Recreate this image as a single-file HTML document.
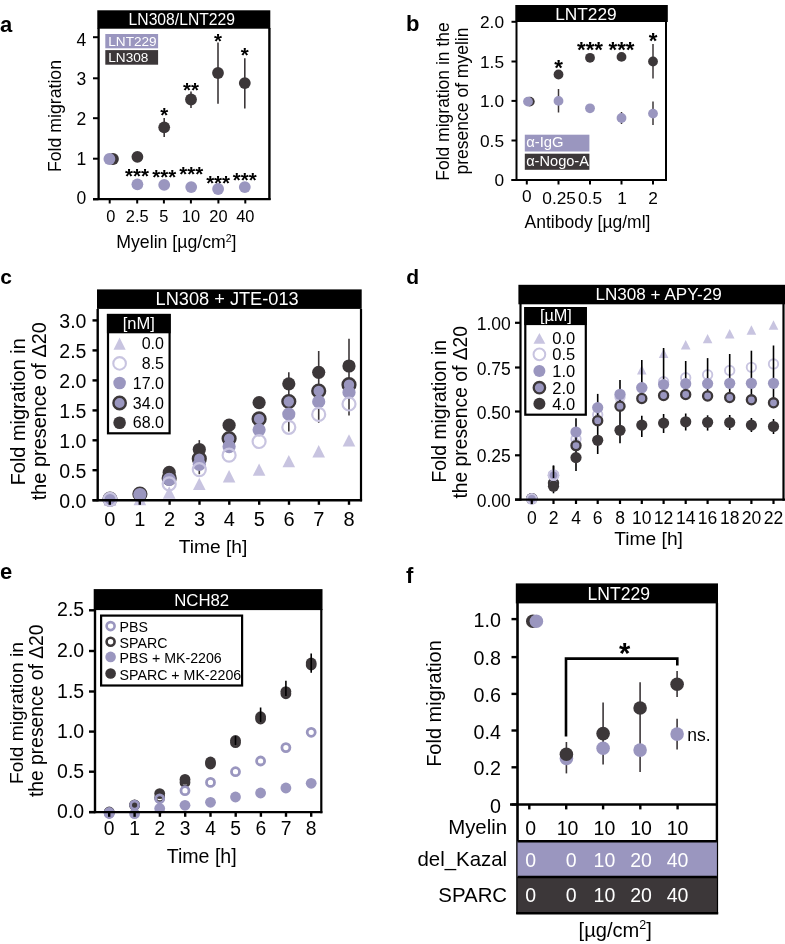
<!DOCTYPE html>
<html><head><meta charset="utf-8"><style>
html,body{margin:0;padding:0;background:#fff;}
svg{will-change:transform;display:block;font-family:"Liberation Sans", sans-serif;}
</style></head><body>
<svg width="785" height="944" viewBox="0 0 785 944">
<text x="0" y="31.5" font-size="22" text-anchor="start" fill="#000" font-weight="bold">a</text>
<rect x="97.3" y="10.3" width="173" height="18.4" fill="#000"/>
<text x="181.8" y="25.2" font-size="15.7" text-anchor="middle" fill="#fff">LN308/LNT229</text>
<line x1="98.6" y1="28" x2="98.6" y2="200" stroke="#000" stroke-width="2.3" stroke-linecap="butt"/>
<line x1="269.4" y1="28" x2="269.4" y2="200" stroke="#000" stroke-width="2.4" stroke-linecap="butt"/>
<line x1="93" y1="199.1" x2="270.6" y2="199.1" stroke="#000" stroke-width="2.3" stroke-linecap="butt"/>
<line x1="93" y1="199.3" x2="98.5" y2="199.3" stroke="#000" stroke-width="2" stroke-linecap="butt"/>
<text x="86.3" y="204.4" font-size="17.5" text-anchor="end" fill="#000">0</text>
<line x1="93" y1="158.7" x2="98.5" y2="158.7" stroke="#000" stroke-width="2" stroke-linecap="butt"/>
<text x="86.3" y="165.0" font-size="17.5" text-anchor="end" fill="#000">1</text>
<line x1="93" y1="118.2" x2="98.5" y2="118.2" stroke="#000" stroke-width="2" stroke-linecap="butt"/>
<text x="86.3" y="125.1" font-size="17.5" text-anchor="end" fill="#000">2</text>
<line x1="93" y1="78.3" x2="98.5" y2="78.3" stroke="#000" stroke-width="2" stroke-linecap="butt"/>
<text x="86.3" y="85.19999999999999" font-size="17.5" text-anchor="end" fill="#000">3</text>
<line x1="93" y1="37.2" x2="98.5" y2="37.2" stroke="#000" stroke-width="2" stroke-linecap="butt"/>
<text x="86.3" y="45.5" font-size="17.5" text-anchor="end" fill="#000">4</text>
<line x1="109.7" y1="199" x2="109.7" y2="203.5" stroke="#000" stroke-width="2" stroke-linecap="butt"/>
<text x="110.7" y="221.7" font-size="16.4" text-anchor="middle" fill="#000">0</text>
<line x1="137.2" y1="199" x2="137.2" y2="203.5" stroke="#000" stroke-width="2" stroke-linecap="butt"/>
<text x="137.2" y="221.7" font-size="16.4" text-anchor="middle" fill="#000">2.5</text>
<line x1="163.9" y1="199" x2="163.9" y2="203.5" stroke="#000" stroke-width="2" stroke-linecap="butt"/>
<text x="163.9" y="221.7" font-size="16.4" text-anchor="middle" fill="#000">5</text>
<line x1="190.9" y1="199" x2="190.9" y2="203.5" stroke="#000" stroke-width="2" stroke-linecap="butt"/>
<text x="190.9" y="221.7" font-size="16.4" text-anchor="middle" fill="#000">10</text>
<line x1="218.4" y1="199" x2="218.4" y2="203.5" stroke="#000" stroke-width="2" stroke-linecap="butt"/>
<text x="218.4" y="221.7" font-size="16.4" text-anchor="middle" fill="#000">20</text>
<line x1="245.3" y1="199" x2="245.3" y2="203.5" stroke="#000" stroke-width="2" stroke-linecap="butt"/>
<text x="245.3" y="221.7" font-size="16.4" text-anchor="middle" fill="#000">40</text>
<text x="176.4" y="248.1" font-size="17.7" text-anchor="middle">Myelin [µg/cm<tspan font-size="10.5" dy="-6">2</tspan><tspan dy="6">]</tspan></text>
<text x="60.5" y="116" font-size="17.7" text-anchor="middle" fill="#000" transform="rotate(-90 60.5 116)">Fold migration</text>
<rect x="105.3" y="34" width="52.8" height="14.3" fill="#9a96bf"/>
<text x="108.3" y="45.7" font-size="13.6" text-anchor="start" fill="#fff">LNT229</text>
<rect x="105.3" y="50.1" width="52.8" height="14.6" fill="#3c3739"/>
<text x="108.3" y="62" font-size="13.6" text-anchor="start" fill="#fff">LN308</text>
<line x1="164.2" y1="118.1" x2="164.2" y2="137" stroke="#3c3739" stroke-width="1.6" stroke-linecap="butt"/>
<line x1="191" y1="91.4" x2="191" y2="107.9" stroke="#3c3739" stroke-width="1.6" stroke-linecap="butt"/>
<line x1="218" y1="42.6" x2="218" y2="103.8" stroke="#3c3739" stroke-width="1.6" stroke-linecap="butt"/>
<line x1="244.8" y1="58.2" x2="244.8" y2="108.4" stroke="#3c3739" stroke-width="1.6" stroke-linecap="butt"/>
<circle cx="113" cy="159" r="5.9" fill="#3c3739"/>
<circle cx="109.4" cy="159" r="5.9" fill="#9a96bf"/>
<circle cx="137.4" cy="156.8" r="5.9" fill="#3c3739"/>
<circle cx="164.2" cy="127.3" r="5.9" fill="#3c3739"/>
<circle cx="191" cy="99.5" r="5.9" fill="#3c3739"/>
<circle cx="218" cy="73" r="5.9" fill="#3c3739"/>
<circle cx="244.8" cy="83.1" r="5.9" fill="#3c3739"/>
<circle cx="137.4" cy="184.3" r="5.9" fill="#9a96bf"/>
<circle cx="164.2" cy="184.8" r="5.9" fill="#9a96bf"/>
<circle cx="191.2" cy="187.1" r="5.9" fill="#9a96bf"/>
<circle cx="218.1" cy="189" r="5.9" fill="#9a96bf"/>
<circle cx="244.8" cy="187.1" r="5.9" fill="#9a96bf"/>
<text x="164.2" y="121.65" font-size="20.5" text-anchor="middle" fill="#000" font-weight="bold">*</text>
<text x="191" y="96.75" font-size="20.5" text-anchor="middle" fill="#000" font-weight="bold">**</text>
<text x="218" y="47.85" font-size="20.5" text-anchor="middle" fill="#000" font-weight="bold">*</text>
<text x="244.8" y="61.55" font-size="20.5" text-anchor="middle" fill="#000" font-weight="bold">*</text>
<text x="137" y="183.35" font-size="20.5" text-anchor="middle" fill="#000" font-weight="bold">***</text>
<text x="164.2" y="183.75" font-size="20.5" text-anchor="middle" fill="#000" font-weight="bold">***</text>
<text x="191.2" y="180.85" font-size="20.5" text-anchor="middle" fill="#000" font-weight="bold">***</text>
<text x="218.1" y="189.75" font-size="20.5" text-anchor="middle" fill="#000" font-weight="bold">***</text>
<text x="244.8" y="186.55" font-size="20.5" text-anchor="middle" fill="#000" font-weight="bold">***</text>
<text x="406" y="30.5" font-size="22" text-anchor="start" fill="#000" font-weight="bold">b</text>
<rect x="515.3" y="5" width="152.5" height="17" fill="#000"/>
<text x="585.9" y="20" font-size="17.3" text-anchor="middle" fill="#fff">LNT229</text>
<line x1="516.5" y1="21.5" x2="516.5" y2="181" stroke="#000" stroke-width="2" stroke-linecap="butt"/>
<line x1="666" y1="21.5" x2="666" y2="181" stroke="#000" stroke-width="2" stroke-linecap="butt"/>
<line x1="511.5" y1="180" x2="667" y2="180" stroke="#000" stroke-width="2" stroke-linecap="butt"/>
<line x1="511.5" y1="180" x2="516.5" y2="180" stroke="#000" stroke-width="2" stroke-linecap="butt"/>
<text x="504" y="186.2" font-size="17.3" text-anchor="end" fill="#000">0</text>
<line x1="511.5" y1="140.5" x2="516.5" y2="140.5" stroke="#000" stroke-width="2" stroke-linecap="butt"/>
<text x="504" y="146.7" font-size="17.3" text-anchor="end" fill="#000">0.5</text>
<line x1="511.5" y1="100.9" x2="516.5" y2="100.9" stroke="#000" stroke-width="2" stroke-linecap="butt"/>
<text x="504" y="107.10000000000001" font-size="17.3" text-anchor="end" fill="#000">1.0</text>
<line x1="511.5" y1="61.5" x2="516.5" y2="61.5" stroke="#000" stroke-width="2" stroke-linecap="butt"/>
<text x="504" y="67.7" font-size="17.3" text-anchor="end" fill="#000">1.5</text>
<line x1="511.5" y1="21.8" x2="516.5" y2="21.8" stroke="#000" stroke-width="2" stroke-linecap="butt"/>
<text x="504" y="28.0" font-size="17.3" text-anchor="end" fill="#000">2.0</text>
<line x1="526.8" y1="180" x2="526.8" y2="184.5" stroke="#000" stroke-width="2" stroke-linecap="butt"/>
<text x="526.8" y="202.3" font-size="17.3" text-anchor="middle" fill="#000">0</text>
<line x1="558.5" y1="180" x2="558.5" y2="184.5" stroke="#000" stroke-width="2" stroke-linecap="butt"/>
<text x="559.1" y="204" font-size="17.3" text-anchor="middle" fill="#000">0.25</text>
<line x1="590" y1="180" x2="590" y2="184.5" stroke="#000" stroke-width="2" stroke-linecap="butt"/>
<text x="590" y="204" font-size="17.3" text-anchor="middle" fill="#000">0.5</text>
<line x1="621.5" y1="180" x2="621.5" y2="184.5" stroke="#000" stroke-width="2" stroke-linecap="butt"/>
<text x="622.1" y="204" font-size="17.3" text-anchor="middle" fill="#000">1</text>
<line x1="653" y1="180" x2="653" y2="184.5" stroke="#000" stroke-width="2" stroke-linecap="butt"/>
<text x="653" y="204" font-size="17.3" text-anchor="middle" fill="#000">2</text>
<text x="587.5" y="228" font-size="17.5" text-anchor="middle" fill="#000">Antibody [µg/ml]</text>
<text x="449.4" y="101.5" font-size="17.5" text-anchor="middle" fill="#000" transform="rotate(-90 449.4 101.5)">Fold migration in the</text>
<text x="468.2" y="101" font-size="17.5" text-anchor="middle" fill="#000" transform="rotate(-90 468.2 101)">presence of myelin</text>
<rect x="524.8" y="134.7" width="64.6" height="16.8" fill="#9a96bf"/>
<text x="526.2" y="147.4" font-size="14.8" text-anchor="start" fill="#fff">α-IgG</text>
<rect x="524.8" y="153.7" width="64.6" height="16.1" fill="#3c3739"/>
<text x="526.2" y="166.3" font-size="14.6" text-anchor="start" fill="#fff">α-Nogo-A</text>
<line x1="653" y1="44" x2="653" y2="78.4" stroke="#3c3739" stroke-width="1.5" stroke-linecap="butt"/>
<line x1="558.5" y1="89" x2="558.5" y2="112.5" stroke="#3c3739" stroke-width="1.5" stroke-linecap="butt"/>
<line x1="621.5" y1="112" x2="621.5" y2="124" stroke="#3c3739" stroke-width="1.5" stroke-linecap="butt"/>
<line x1="653" y1="101.5" x2="653" y2="124.9" stroke="#3c3739" stroke-width="1.5" stroke-linecap="butt"/>
<circle cx="529.8" cy="101.6" r="4.9" fill="#3c3739"/>
<circle cx="558.5" cy="74.5" r="4.9" fill="#3c3739"/>
<circle cx="590" cy="57.8" r="4.9" fill="#3c3739"/>
<circle cx="621.5" cy="56.9" r="4.9" fill="#3c3739"/>
<circle cx="653" cy="61.5" r="4.9" fill="#3c3739"/>
<circle cx="528" cy="101.6" r="4.9" fill="#9a96bf"/>
<circle cx="558.5" cy="100.9" r="4.9" fill="#9a96bf"/>
<circle cx="590" cy="108.3" r="4.9" fill="#9a96bf"/>
<circle cx="621.5" cy="118" r="4.9" fill="#9a96bf"/>
<circle cx="653" cy="113.6" r="4.9" fill="#9a96bf"/>
<text x="558.5" y="75.15" font-size="22.3" text-anchor="middle" fill="#000" font-weight="bold">*</text>
<text x="590" y="56.85" font-size="22.3" text-anchor="middle" fill="#000" font-weight="bold">***</text>
<text x="621.5" y="56.85" font-size="22.3" text-anchor="middle" fill="#000" font-weight="bold">***</text>
<text x="653" y="47.65" font-size="22.3" text-anchor="middle" fill="#000" font-weight="bold">*</text>
<text x="0.3" y="284" font-size="21" text-anchor="start" fill="#000" font-weight="bold">c</text>
<polygon points="103.7,505.7 116.3,505.7 110,493.3" fill="#c8c4e0"/>
<polygon points="133.6,505.2 146.20000000000002,505.2 139.9,492.8" fill="#c8c4e0"/>
<polygon points="162.89999999999998,498.7 175.5,498.7 169.2,486.3" fill="#c8c4e0"/>
<polygon points="193.0,490.09999999999997 205.60000000000002,490.09999999999997 199.3,477.7" fill="#c8c4e0"/>
<polygon points="222.79999999999998,482.4 235.4,482.4 229.1,470.0" fill="#c8c4e0"/>
<polygon points="252.8,475.8 265.40000000000003,475.8 259.1,463.40000000000003" fill="#c8c4e0"/>
<polygon points="282.5,467.3 295.1,467.3 288.8,454.90000000000003" fill="#c8c4e0"/>
<polygon points="312.4,457.4 325.0,457.4 318.7,445.0" fill="#c8c4e0"/>
<polygon points="342.7,446.59999999999997 355.3,446.59999999999997 349,434.2" fill="#c8c4e0"/>
<line x1="199.3" y1="440.1" x2="199.3" y2="474.2" stroke="#3c3739" stroke-width="1.6" stroke-linecap="butt"/>
<line x1="288.8" y1="372.3" x2="288.8" y2="431.5" stroke="#3c3739" stroke-width="1.6" stroke-linecap="butt"/>
<line x1="318.7" y1="351" x2="318.7" y2="422.7" stroke="#3c3739" stroke-width="1.6" stroke-linecap="butt"/>
<line x1="349" y1="338.7" x2="349" y2="415.5" stroke="#3c3739" stroke-width="1.6" stroke-linecap="butt"/>
<circle cx="110" cy="499.1" r="6.6" fill="#3c3739"/>
<circle cx="139.9" cy="494" r="6.6" fill="#3c3739"/>
<circle cx="169.2" cy="472.4" r="6.6" fill="#3c3739"/>
<circle cx="199.3" cy="449.5" r="6.6" fill="#3c3739"/>
<circle cx="229.1" cy="425.2" r="6.6" fill="#3c3739"/>
<circle cx="259.1" cy="402.6" r="6.6" fill="#3c3739"/>
<circle cx="288.8" cy="383.8" r="6.6" fill="#3c3739"/>
<circle cx="318.7" cy="372.3" r="6.6" fill="#3c3739"/>
<circle cx="349" cy="366" r="6.6" fill="#3c3739"/>
<circle cx="110" cy="499.1" r="6.4" fill="#9a96bf" stroke="#3c3739" stroke-width="2.4"/>
<circle cx="139.9" cy="494" r="6.4" fill="#9a96bf" stroke="#3c3739" stroke-width="2.4"/>
<circle cx="169.2" cy="478.2" r="6.4" fill="#9a96bf" stroke="#3c3739" stroke-width="2.4"/>
<circle cx="199.3" cy="458.7" r="6.4" fill="#9a96bf" stroke="#3c3739" stroke-width="2.4"/>
<circle cx="229.1" cy="438.6" r="6.4" fill="#9a96bf" stroke="#3c3739" stroke-width="2.4"/>
<circle cx="259.1" cy="418.9" r="6.4" fill="#9a96bf" stroke="#3c3739" stroke-width="2.4"/>
<circle cx="288.8" cy="401.5" r="6.4" fill="#9a96bf" stroke="#3c3739" stroke-width="2.4"/>
<circle cx="318.7" cy="391" r="6.4" fill="#9a96bf" stroke="#3c3739" stroke-width="2.4"/>
<circle cx="349" cy="384.7" r="6.4" fill="#9a96bf" stroke="#3c3739" stroke-width="2.4"/>
<circle cx="110" cy="499.1" r="6.6" fill="#9a96bf"/>
<circle cx="139.9" cy="494.5" r="6.6" fill="#9a96bf"/>
<circle cx="169.2" cy="479.3" r="6.6" fill="#9a96bf"/>
<circle cx="199.3" cy="464.4" r="6.6" fill="#9a96bf"/>
<circle cx="229.1" cy="446.6" r="6.6" fill="#9a96bf"/>
<circle cx="259.1" cy="429.8" r="6.6" fill="#9a96bf"/>
<circle cx="288.8" cy="414.1" r="6.6" fill="#9a96bf"/>
<circle cx="318.7" cy="401.7" r="6.6" fill="#9a96bf"/>
<circle cx="349" cy="392.4" r="6.6" fill="#9a96bf"/>
<circle cx="110" cy="499.3" r="6.5" fill="none" stroke="#c8c4e0" stroke-width="2.2"/>
<circle cx="169.2" cy="483.9" r="6.5" fill="none" stroke="#c8c4e0" stroke-width="2.2"/>
<circle cx="199.3" cy="469.6" r="6.5" fill="none" stroke="#c8c4e0" stroke-width="2.2"/>
<circle cx="229.1" cy="455.2" r="6.5" fill="none" stroke="#c8c4e0" stroke-width="2.2"/>
<circle cx="259.1" cy="441.5" r="6.5" fill="none" stroke="#c8c4e0" stroke-width="2.2"/>
<circle cx="288.8" cy="427.3" r="6.5" fill="none" stroke="#c8c4e0" stroke-width="2.2"/>
<circle cx="318.7" cy="414.4" r="6.5" fill="none" stroke="#c8c4e0" stroke-width="2.2"/>
<circle cx="349" cy="404" r="6.5" fill="none" stroke="#c8c4e0" stroke-width="2.2"/>
<rect x="97" y="289.4" width="264.7" height="19.5" fill="#000"/>
<text x="227.1" y="305.2" font-size="18.2" text-anchor="middle" fill="#fff">LN308 + JTE-013</text>
<line x1="97.7" y1="309" x2="97.7" y2="501.3" stroke="#000" stroke-width="2.4" stroke-linecap="butt"/>
<line x1="361" y1="309" x2="361" y2="501.3" stroke="#000" stroke-width="2.2" stroke-linecap="butt"/>
<line x1="92.5" y1="500.2" x2="362.1" y2="500.2" stroke="#000" stroke-width="2.4" stroke-linecap="butt"/>
<line x1="92.5" y1="500.2" x2="97.7" y2="500.2" stroke="#000" stroke-width="2.4" stroke-linecap="butt"/>
<text x="86.4" y="507.59999999999997" font-size="19.5" text-anchor="end" fill="#000">0.0</text>
<line x1="92.5" y1="470.2" x2="97.7" y2="470.2" stroke="#000" stroke-width="2.4" stroke-linecap="butt"/>
<text x="86.4" y="477.59999999999997" font-size="19.5" text-anchor="end" fill="#000">0.5</text>
<line x1="92.5" y1="440.3" x2="97.7" y2="440.3" stroke="#000" stroke-width="2.4" stroke-linecap="butt"/>
<text x="86.4" y="447.7" font-size="19.5" text-anchor="end" fill="#000">1.0</text>
<line x1="92.5" y1="410.4" x2="97.7" y2="410.4" stroke="#000" stroke-width="2.4" stroke-linecap="butt"/>
<text x="86.4" y="417.79999999999995" font-size="19.5" text-anchor="end" fill="#000">1.5</text>
<line x1="92.5" y1="380.4" x2="97.7" y2="380.4" stroke="#000" stroke-width="2.4" stroke-linecap="butt"/>
<text x="86.4" y="387.79999999999995" font-size="19.5" text-anchor="end" fill="#000">2.0</text>
<line x1="92.5" y1="350.4" x2="97.7" y2="350.4" stroke="#000" stroke-width="2.4" stroke-linecap="butt"/>
<text x="86.4" y="357.79999999999995" font-size="19.5" text-anchor="end" fill="#000">2.5</text>
<line x1="92.5" y1="320.4" x2="97.7" y2="320.4" stroke="#000" stroke-width="2.4" stroke-linecap="butt"/>
<text x="86.4" y="327.79999999999995" font-size="19.5" text-anchor="end" fill="#000">3.0</text>
<line x1="109.8" y1="500" x2="109.8" y2="504.8" stroke="#000" stroke-width="2.4" stroke-linecap="butt"/>
<text x="109.8" y="526" font-size="20" text-anchor="middle" fill="#000">0</text>
<line x1="139.8" y1="500" x2="139.8" y2="504.8" stroke="#000" stroke-width="2.4" stroke-linecap="butt"/>
<text x="139.8" y="526" font-size="20" text-anchor="middle" fill="#000">1</text>
<line x1="169.6" y1="500" x2="169.6" y2="504.8" stroke="#000" stroke-width="2.4" stroke-linecap="butt"/>
<text x="169.6" y="526" font-size="20" text-anchor="middle" fill="#000">2</text>
<line x1="199.5" y1="500" x2="199.5" y2="504.8" stroke="#000" stroke-width="2.4" stroke-linecap="butt"/>
<text x="199.5" y="526" font-size="20" text-anchor="middle" fill="#000">3</text>
<line x1="229.3" y1="500" x2="229.3" y2="504.8" stroke="#000" stroke-width="2.4" stroke-linecap="butt"/>
<text x="229.3" y="526" font-size="20" text-anchor="middle" fill="#000">4</text>
<line x1="259.2" y1="500" x2="259.2" y2="504.8" stroke="#000" stroke-width="2.4" stroke-linecap="butt"/>
<text x="259.2" y="526" font-size="20" text-anchor="middle" fill="#000">5</text>
<line x1="289" y1="500" x2="289" y2="504.8" stroke="#000" stroke-width="2.4" stroke-linecap="butt"/>
<text x="289" y="526" font-size="20" text-anchor="middle" fill="#000">6</text>
<line x1="318.9" y1="500" x2="318.9" y2="504.8" stroke="#000" stroke-width="2.4" stroke-linecap="butt"/>
<text x="318.9" y="526" font-size="20" text-anchor="middle" fill="#000">7</text>
<line x1="349" y1="500" x2="349" y2="504.8" stroke="#000" stroke-width="2.4" stroke-linecap="butt"/>
<text x="349" y="526" font-size="20" text-anchor="middle" fill="#000">8</text>
<text x="213" y="552.8" font-size="19.2" text-anchor="middle" fill="#000">Time [h]</text>
<text x="24.8" y="411.8" font-size="19.9" text-anchor="middle" fill="#000" transform="rotate(-90 24.8 411.8)">Fold migration in</text>
<text x="45.6" y="411.2" font-size="19.9" text-anchor="middle" fill="#000" transform="rotate(-90 45.6 411.2)">the presence of Δ20</text>
<rect x="108" y="315" width="61.6" height="118.3" fill="#fff" stroke="#000" stroke-width="2.2"/>
<rect x="106.9" y="313.9" width="63.8" height="19.4" fill="#000"/>
<text x="138.7" y="329" font-size="16.5" text-anchor="middle" fill="#fff">[nM]</text>
<polygon points="113.5,349.70000000000005 125.69999999999999,349.70000000000005 119.6,337.5" fill="#c8c4e0"/>
<circle cx="119.6" cy="363.4" r="6.3" fill="none" stroke="#c8c4e0" stroke-width="2.1"/>
<circle cx="119.6" cy="383" r="6.3" fill="#9a96bf"/>
<circle cx="119.6" cy="403" r="6.2" fill="#9a96bf" stroke="#3c3739" stroke-width="2.4"/>
<circle cx="119.6" cy="422.8" r="6.3" fill="#3c3739"/>
<text x="163.9" y="349.20000000000005" font-size="16" text-anchor="end" fill="#000">0.0</text>
<text x="163.9" y="369.0" font-size="16" text-anchor="end" fill="#000">8.5</text>
<text x="163.9" y="388.6" font-size="16" text-anchor="end" fill="#000">17.0</text>
<text x="163.9" y="408.6" font-size="16" text-anchor="end" fill="#000">34.0</text>
<text x="163.9" y="428.40000000000003" font-size="16" text-anchor="end" fill="#000">68.0</text>
<text x="406.3" y="284" font-size="21" text-anchor="start" fill="#000" font-weight="bold">d</text>
<polygon points="527.0,503.3 536.5999999999999,503.3 531.8,493.90000000000003" fill="#c8c4e0"/>
<polygon points="548.7,480.7 558.3,480.7 553.5,471.3" fill="#c8c4e0"/>
<polygon points="571.2,443.59999999999997 580.8,443.59999999999997 576,434.2" fill="#c8c4e0"/>
<polygon points="592.9000000000001,419.5 602.5,419.5 597.7,410.1" fill="#c8c4e0"/>
<polygon points="615.2,401.7 624.8,401.7 620,392.3" fill="#c8c4e0"/>
<polygon points="637.0,374.5 646.5999999999999,374.5 641.8,365.1" fill="#c8c4e0"/>
<polygon points="658.8000000000001,358.09999999999997 668.4,358.09999999999997 663.6,348.7" fill="#c8c4e0"/>
<polygon points="680.9000000000001,349.5 690.5,349.5 685.7,340.1" fill="#c8c4e0"/>
<polygon points="702.8000000000001,343.3 712.4,343.3 707.6,333.90000000000003" fill="#c8c4e0"/>
<polygon points="724.9000000000001,338.4 734.5,338.4 729.7,329.0" fill="#c8c4e0"/>
<polygon points="746.6,334.7 756.1999999999999,334.7 751.4,325.3" fill="#c8c4e0"/>
<polygon points="768.7,329.7 778.3,329.7 773.5,320.3" fill="#c8c4e0"/>
<circle cx="531.8" cy="498.6" r="4.7" fill="none" stroke="#c8c4e0" stroke-width="1.9"/>
<circle cx="553.5" cy="475.2" r="4.7" fill="none" stroke="#c8c4e0" stroke-width="1.9"/>
<circle cx="576" cy="438.9" r="4.7" fill="none" stroke="#c8c4e0" stroke-width="1.9"/>
<circle cx="597.7" cy="414.8" r="4.7" fill="none" stroke="#c8c4e0" stroke-width="1.9"/>
<circle cx="620" cy="397" r="4.7" fill="none" stroke="#c8c4e0" stroke-width="1.9"/>
<circle cx="641.8" cy="388" r="4.7" fill="none" stroke="#c8c4e0" stroke-width="1.9"/>
<circle cx="663.6" cy="381.7" r="4.7" fill="none" stroke="#c8c4e0" stroke-width="1.9"/>
<circle cx="685.7" cy="377.7" r="4.7" fill="none" stroke="#c8c4e0" stroke-width="1.9"/>
<circle cx="707.6" cy="374.7" r="4.7" fill="none" stroke="#c8c4e0" stroke-width="1.9"/>
<circle cx="729.7" cy="370.4" r="4.7" fill="none" stroke="#c8c4e0" stroke-width="1.9"/>
<circle cx="751.4" cy="367.3" r="4.7" fill="none" stroke="#c8c4e0" stroke-width="1.9"/>
<circle cx="773.5" cy="363.9" r="4.7" fill="none" stroke="#c8c4e0" stroke-width="1.9"/>
<line x1="553.5" y1="465.6" x2="553.5" y2="493.3" stroke="#000" stroke-width="1.6" stroke-linecap="butt"/>
<line x1="576" y1="418.3" x2="576" y2="471" stroke="#000" stroke-width="1.6" stroke-linecap="butt"/>
<line x1="597.7" y1="393.9" x2="597.7" y2="454" stroke="#000" stroke-width="1.6" stroke-linecap="butt"/>
<line x1="620" y1="380" x2="620" y2="443.3" stroke="#000" stroke-width="1.6" stroke-linecap="butt"/>
<line x1="641.8" y1="360" x2="641.8" y2="404" stroke="#000" stroke-width="1.6" stroke-linecap="butt"/>
<line x1="663.6" y1="348" x2="663.6" y2="401" stroke="#000" stroke-width="1.6" stroke-linecap="butt"/>
<line x1="685.7" y1="361" x2="685.7" y2="400" stroke="#000" stroke-width="1.6" stroke-linecap="butt"/>
<line x1="707.6" y1="358.1" x2="707.6" y2="401" stroke="#000" stroke-width="1.6" stroke-linecap="butt"/>
<line x1="729.7" y1="354" x2="729.7" y2="403" stroke="#000" stroke-width="1.6" stroke-linecap="butt"/>
<line x1="751.4" y1="350.7" x2="751.4" y2="405" stroke="#000" stroke-width="1.6" stroke-linecap="butt"/>
<line x1="773.5" y1="345.5" x2="773.5" y2="408" stroke="#000" stroke-width="1.6" stroke-linecap="butt"/>
<circle cx="531.8" cy="498.6" r="5.6" fill="#9a96bf"/>
<circle cx="553.5" cy="475.2" r="5.6" fill="#9a96bf"/>
<circle cx="576" cy="432" r="5.6" fill="#9a96bf"/>
<circle cx="597.7" cy="407.6" r="5.6" fill="#9a96bf"/>
<circle cx="620" cy="394.3" r="5.6" fill="#9a96bf"/>
<circle cx="641.8" cy="387.6" r="5.6" fill="#9a96bf"/>
<circle cx="663.6" cy="384.6" r="5.6" fill="#9a96bf"/>
<circle cx="685.7" cy="383.7" r="5.6" fill="#9a96bf"/>
<circle cx="707.6" cy="383.6" r="5.6" fill="#9a96bf"/>
<circle cx="729.7" cy="383.3" r="5.6" fill="#9a96bf"/>
<circle cx="751.4" cy="383.3" r="5.6" fill="#9a96bf"/>
<circle cx="773.5" cy="383.3" r="5.6" fill="#9a96bf"/>
<circle cx="531.8" cy="498.6" r="4.55" fill="#9a96bf" stroke="#3c3739" stroke-width="2.3"/>
<circle cx="553.5" cy="483" r="4.55" fill="#9a96bf" stroke="#3c3739" stroke-width="2.3"/>
<circle cx="576" cy="445.6" r="4.55" fill="#9a96bf" stroke="#3c3739" stroke-width="2.3"/>
<circle cx="597.7" cy="420.7" r="4.55" fill="#9a96bf" stroke="#3c3739" stroke-width="2.3"/>
<circle cx="620" cy="406.2" r="4.55" fill="#9a96bf" stroke="#3c3739" stroke-width="2.3"/>
<circle cx="641.8" cy="398.5" r="4.55" fill="#9a96bf" stroke="#3c3739" stroke-width="2.3"/>
<circle cx="663.6" cy="395.5" r="4.55" fill="#9a96bf" stroke="#3c3739" stroke-width="2.3"/>
<circle cx="685.7" cy="394.5" r="4.55" fill="#9a96bf" stroke="#3c3739" stroke-width="2.3"/>
<circle cx="707.6" cy="396" r="4.55" fill="#9a96bf" stroke="#3c3739" stroke-width="2.3"/>
<circle cx="729.7" cy="397.5" r="4.55" fill="#9a96bf" stroke="#3c3739" stroke-width="2.3"/>
<circle cx="751.4" cy="399.8" r="4.55" fill="#9a96bf" stroke="#3c3739" stroke-width="2.3"/>
<circle cx="773.5" cy="402.8" r="4.55" fill="#9a96bf" stroke="#3c3739" stroke-width="2.3"/>
<line x1="641.8" y1="415.7" x2="641.8" y2="437" stroke="#000" stroke-width="1.6" stroke-linecap="butt"/>
<line x1="663.6" y1="414" x2="663.6" y2="433" stroke="#000" stroke-width="1.6" stroke-linecap="butt"/>
<line x1="685.7" y1="413.5" x2="685.7" y2="430.5" stroke="#000" stroke-width="1.6" stroke-linecap="butt"/>
<line x1="707.6" y1="415.3" x2="707.6" y2="430.6" stroke="#000" stroke-width="1.6" stroke-linecap="butt"/>
<line x1="729.7" y1="415" x2="729.7" y2="430" stroke="#000" stroke-width="1.6" stroke-linecap="butt"/>
<line x1="751.4" y1="418" x2="751.4" y2="432" stroke="#000" stroke-width="1.6" stroke-linecap="butt"/>
<line x1="773.5" y1="419" x2="773.5" y2="434" stroke="#000" stroke-width="1.6" stroke-linecap="butt"/>
<circle cx="531.8" cy="498.6" r="5.6" fill="#3c3739"/>
<circle cx="553.5" cy="486.2" r="5.6" fill="#3c3739"/>
<circle cx="576" cy="457.6" r="5.6" fill="#3c3739"/>
<circle cx="597.7" cy="440.3" r="5.6" fill="#3c3739"/>
<circle cx="620" cy="430.3" r="5.6" fill="#3c3739"/>
<circle cx="641.8" cy="425.1" r="5.6" fill="#3c3739"/>
<circle cx="663.6" cy="423.1" r="5.6" fill="#3c3739"/>
<circle cx="685.7" cy="421.8" r="5.6" fill="#3c3739"/>
<circle cx="707.6" cy="422.3" r="5.6" fill="#3c3739"/>
<circle cx="729.7" cy="422.5" r="5.6" fill="#3c3739"/>
<circle cx="751.4" cy="425.1" r="5.6" fill="#3c3739"/>
<circle cx="773.5" cy="426.5" r="5.6" fill="#3c3739"/>
<circle cx="531.8" cy="498.8" r="5.9" fill="#c8c4e0"/>
<circle cx="531.8" cy="498.8" r="3.8" fill="#9a96bf"/>
<circle cx="553.5" cy="475.2" r="5.9" fill="#c8c4e0"/>
<circle cx="553.5" cy="475.2" r="3.8" fill="#9a96bf"/>
<line x1="553.5" y1="465.6" x2="553.5" y2="478" stroke="#000" stroke-width="1.6" stroke-linecap="butt"/>
<rect x="518.4" y="284.8" width="266.6" height="19.5" fill="#000"/>
<text x="658.6" y="300.2" font-size="17.1" text-anchor="middle" fill="#fff">LN308 + APY-29</text>
<line x1="520.5" y1="304" x2="520.5" y2="500.7" stroke="#000" stroke-width="2.2" stroke-linecap="butt"/>
<line x1="783.5" y1="304" x2="783.5" y2="500.7" stroke="#000" stroke-width="2.2" stroke-linecap="butt"/>
<line x1="515" y1="499.6" x2="785" y2="499.6" stroke="#000" stroke-width="2.2" stroke-linecap="butt"/>
<line x1="515" y1="499.6" x2="520.5" y2="499.6" stroke="#000" stroke-width="2.2" stroke-linecap="butt"/>
<text x="510.8" y="506.6" font-size="17.5" text-anchor="end" fill="#000">0.00</text>
<line x1="515" y1="455.3" x2="520.5" y2="455.3" stroke="#000" stroke-width="2.2" stroke-linecap="butt"/>
<text x="510.8" y="462.3" font-size="17.5" text-anchor="end" fill="#000">0.25</text>
<line x1="515" y1="411.5" x2="520.5" y2="411.5" stroke="#000" stroke-width="2.2" stroke-linecap="butt"/>
<text x="510.8" y="418.5" font-size="17.5" text-anchor="end" fill="#000">0.50</text>
<line x1="515" y1="367.5" x2="520.5" y2="367.5" stroke="#000" stroke-width="2.2" stroke-linecap="butt"/>
<text x="510.8" y="374.5" font-size="17.5" text-anchor="end" fill="#000">0.75</text>
<line x1="515" y1="322.8" x2="520.5" y2="322.8" stroke="#000" stroke-width="2.2" stroke-linecap="butt"/>
<text x="510.8" y="329.8" font-size="17.5" text-anchor="end" fill="#000">1.00</text>
<line x1="531.8" y1="499.6" x2="531.8" y2="504" stroke="#000" stroke-width="2.2" stroke-linecap="butt"/>
<text x="531.8" y="524" font-size="17.5" text-anchor="middle" fill="#000">0</text>
<line x1="553.5" y1="499.6" x2="553.5" y2="504" stroke="#000" stroke-width="2.2" stroke-linecap="butt"/>
<text x="553.5" y="524" font-size="17.5" text-anchor="middle" fill="#000">2</text>
<line x1="576" y1="499.6" x2="576" y2="504" stroke="#000" stroke-width="2.2" stroke-linecap="butt"/>
<text x="576" y="524" font-size="17.5" text-anchor="middle" fill="#000">4</text>
<line x1="597.7" y1="499.6" x2="597.7" y2="504" stroke="#000" stroke-width="2.2" stroke-linecap="butt"/>
<text x="597.7" y="524" font-size="17.5" text-anchor="middle" fill="#000">6</text>
<line x1="620" y1="499.6" x2="620" y2="504" stroke="#000" stroke-width="2.2" stroke-linecap="butt"/>
<text x="620" y="524" font-size="17.5" text-anchor="middle" fill="#000">8</text>
<line x1="641.8" y1="499.6" x2="641.8" y2="504" stroke="#000" stroke-width="2.2" stroke-linecap="butt"/>
<text x="641.8" y="524" font-size="17.5" text-anchor="middle" fill="#000">10</text>
<line x1="663.6" y1="499.6" x2="663.6" y2="504" stroke="#000" stroke-width="2.2" stroke-linecap="butt"/>
<text x="663.6" y="524" font-size="17.5" text-anchor="middle" fill="#000">12</text>
<line x1="685.7" y1="499.6" x2="685.7" y2="504" stroke="#000" stroke-width="2.2" stroke-linecap="butt"/>
<text x="685.7" y="524" font-size="17.5" text-anchor="middle" fill="#000">14</text>
<line x1="707.6" y1="499.6" x2="707.6" y2="504" stroke="#000" stroke-width="2.2" stroke-linecap="butt"/>
<text x="707.6" y="524" font-size="17.5" text-anchor="middle" fill="#000">16</text>
<line x1="729.7" y1="499.6" x2="729.7" y2="504" stroke="#000" stroke-width="2.2" stroke-linecap="butt"/>
<text x="729.7" y="524" font-size="17.5" text-anchor="middle" fill="#000">18</text>
<line x1="751.4" y1="499.6" x2="751.4" y2="504" stroke="#000" stroke-width="2.2" stroke-linecap="butt"/>
<text x="751.4" y="524" font-size="17.5" text-anchor="middle" fill="#000">20</text>
<line x1="773.5" y1="499.6" x2="773.5" y2="504" stroke="#000" stroke-width="2.2" stroke-linecap="butt"/>
<text x="773.5" y="524" font-size="17.5" text-anchor="middle" fill="#000">22</text>
<text x="648.6" y="545" font-size="19.2" text-anchor="middle" fill="#000">Time [h]</text>
<text x="446.1" y="411.2" font-size="19.3" text-anchor="middle" fill="#000" transform="rotate(-90 446.1 411.2)">Fold migration in</text>
<text x="466.7" y="412.25" font-size="19.3" text-anchor="middle" fill="#000" transform="rotate(-90 466.7 412.25)">the presence of Δ20</text>
<rect x="525.3" y="308.1" width="60.5" height="106.6" fill="#fff" stroke="#000" stroke-width="2.2"/>
<rect x="524.3" y="307.1" width="62.5" height="18" fill="#000"/>
<text x="555.9" y="320.6" font-size="16.3" text-anchor="middle" fill="#fff">[µM]</text>
<polygon points="533.5,343.65000000000003 545.3,343.65000000000003 539.4,332.95" fill="#c8c4e0"/>
<circle cx="539.4" cy="354.4" r="5.85" fill="none" stroke="#c8c4e0" stroke-width="2"/>
<circle cx="539.4" cy="371" r="6" fill="#9a96bf"/>
<circle cx="539.4" cy="387.7" r="5.7" fill="#9a96bf" stroke="#3c3739" stroke-width="2.3"/>
<circle cx="539.4" cy="403.8" r="6" fill="#3c3739"/>
<text x="552.3" y="344.3" font-size="16.5" text-anchor="start" fill="#000">0.0</text>
<text x="552.3" y="360.4" font-size="16.5" text-anchor="start" fill="#000">0.5</text>
<text x="552.3" y="377" font-size="16.5" text-anchor="start" fill="#000">1.0</text>
<text x="552.3" y="393.7" font-size="16.5" text-anchor="start" fill="#000">2.0</text>
<text x="552.3" y="409.8" font-size="16.5" text-anchor="start" fill="#000">4.0</text>
<text x="0" y="578.5" font-size="22" text-anchor="start" fill="#000" font-weight="bold">e</text>
<circle cx="109.2" cy="813" r="5.4" fill="#3c3739"/>
<circle cx="134.6" cy="805.1" r="5.4" fill="#3c3739"/>
<circle cx="159.7" cy="793.6" r="5.4" fill="#3c3739"/>
<circle cx="185" cy="779.4" r="5.4" fill="#3c3739"/>
<circle cx="210.5" cy="762" r="5.4" fill="#3c3739"/>
<circle cx="235.5" cy="740.5" r="5.4" fill="#3c3739"/>
<circle cx="260.6" cy="716.7" r="5.4" fill="#3c3739"/>
<circle cx="285.9" cy="691.6" r="5.4" fill="#3c3739"/>
<circle cx="311.2" cy="663" r="5.4" fill="#3c3739"/>
<circle cx="109.2" cy="812" r="4.0" fill="none" stroke="#3c3739" stroke-width="2.8"/>
<circle cx="134.6" cy="805" r="4.0" fill="none" stroke="#3c3739" stroke-width="2.8"/>
<circle cx="159.7" cy="797.7" r="4.0" fill="none" stroke="#3c3739" stroke-width="2.8"/>
<circle cx="185" cy="782.4" r="4.0" fill="none" stroke="#3c3739" stroke-width="2.8"/>
<circle cx="210.5" cy="764" r="4.0" fill="none" stroke="#3c3739" stroke-width="2.8"/>
<circle cx="235.5" cy="742.7" r="4.0" fill="none" stroke="#3c3739" stroke-width="2.8"/>
<circle cx="260.6" cy="719" r="4.0" fill="none" stroke="#3c3739" stroke-width="2.8"/>
<circle cx="285.9" cy="693.8" r="4.0" fill="none" stroke="#3c3739" stroke-width="2.8"/>
<circle cx="311.2" cy="665" r="4.0" fill="none" stroke="#3c3739" stroke-width="2.8"/>
<line x1="235.5" y1="736" x2="235.5" y2="745" stroke="#000" stroke-width="1.6" stroke-linecap="butt"/>
<line x1="260.6" y1="707.5" x2="260.6" y2="722" stroke="#000" stroke-width="1.6" stroke-linecap="butt"/>
<line x1="285.9" y1="680.8" x2="285.9" y2="696" stroke="#000" stroke-width="1.6" stroke-linecap="butt"/>
<line x1="311.2" y1="653.4" x2="311.2" y2="672.7" stroke="#000" stroke-width="1.6" stroke-linecap="butt"/>
<circle cx="109.2" cy="813.5" r="5.4" fill="#9a96bf"/>
<circle cx="134.6" cy="813.7" r="5.4" fill="#9a96bf"/>
<circle cx="159.7" cy="808.5" r="5.4" fill="#9a96bf"/>
<circle cx="185" cy="805.3" r="5.4" fill="#9a96bf"/>
<circle cx="210.5" cy="802.3" r="5.4" fill="#9a96bf"/>
<circle cx="235.5" cy="797" r="5.4" fill="#9a96bf"/>
<circle cx="260.6" cy="793" r="5.4" fill="#9a96bf"/>
<circle cx="285.9" cy="788" r="5.4" fill="#9a96bf"/>
<circle cx="311.2" cy="783.3" r="5.4" fill="#9a96bf"/>
<circle cx="109.2" cy="812.5" r="4.0" fill="none" stroke="#9a96bf" stroke-width="2.8"/>
<circle cx="134.6" cy="805.1" r="4.0" fill="none" stroke="#9a96bf" stroke-width="2.8"/>
<circle cx="159.7" cy="798.8" r="4.0" fill="none" stroke="#9a96bf" stroke-width="2.8"/>
<circle cx="185" cy="790.7" r="4.0" fill="none" stroke="#9a96bf" stroke-width="2.8"/>
<circle cx="210.5" cy="782.4" r="4.0" fill="none" stroke="#9a96bf" stroke-width="2.8"/>
<circle cx="235.5" cy="771.7" r="4.0" fill="none" stroke="#9a96bf" stroke-width="2.8"/>
<circle cx="260.6" cy="761" r="4.0" fill="none" stroke="#9a96bf" stroke-width="2.8"/>
<circle cx="285.9" cy="747.6" r="4.0" fill="none" stroke="#9a96bf" stroke-width="2.8"/>
<circle cx="311.2" cy="732.3" r="4.0" fill="none" stroke="#9a96bf" stroke-width="2.8"/>
<rect x="93.7" y="589.1" width="228.8" height="21" fill="#000"/>
<text x="201.7" y="606" font-size="16.8" text-anchor="middle" fill="#fff">NCH82</text>
<line x1="95" y1="609" x2="95" y2="813.2" stroke="#000" stroke-width="2.4" stroke-linecap="butt"/>
<line x1="321.3" y1="609" x2="321.3" y2="813.2" stroke="#000" stroke-width="2.2" stroke-linecap="butt"/>
<line x1="89" y1="812.1" x2="322.4" y2="812.1" stroke="#000" stroke-width="2.4" stroke-linecap="butt"/>
<line x1="89" y1="812.1" x2="95" y2="812.1" stroke="#000" stroke-width="2.4" stroke-linecap="butt"/>
<text x="84.2" y="818.2" font-size="19.5" text-anchor="end" fill="#000">0.0</text>
<line x1="89" y1="771.7" x2="95" y2="771.7" stroke="#000" stroke-width="2.4" stroke-linecap="butt"/>
<text x="84.2" y="777.8000000000001" font-size="19.5" text-anchor="end" fill="#000">0.5</text>
<line x1="89" y1="731.6" x2="95" y2="731.6" stroke="#000" stroke-width="2.4" stroke-linecap="butt"/>
<text x="84.2" y="737.7" font-size="19.5" text-anchor="end" fill="#000">1.0</text>
<line x1="89" y1="691.5" x2="95" y2="691.5" stroke="#000" stroke-width="2.4" stroke-linecap="butt"/>
<text x="84.2" y="697.6" font-size="19.5" text-anchor="end" fill="#000">1.5</text>
<line x1="89" y1="651" x2="95" y2="651" stroke="#000" stroke-width="2.4" stroke-linecap="butt"/>
<text x="84.2" y="657.1" font-size="19.5" text-anchor="end" fill="#000">2.0</text>
<line x1="89" y1="610.3" x2="95" y2="610.3" stroke="#000" stroke-width="2.4" stroke-linecap="butt"/>
<text x="84.2" y="616.4" font-size="19.5" text-anchor="end" fill="#000">2.5</text>
<line x1="109.2" y1="812" x2="109.2" y2="816.8" stroke="#000" stroke-width="2.4" stroke-linecap="butt"/>
<text x="109.2" y="835" font-size="19.3" text-anchor="middle" fill="#000">0</text>
<line x1="134.6" y1="812" x2="134.6" y2="816.8" stroke="#000" stroke-width="2.4" stroke-linecap="butt"/>
<text x="134.6" y="835" font-size="19.3" text-anchor="middle" fill="#000">1</text>
<line x1="159.9" y1="812" x2="159.9" y2="816.8" stroke="#000" stroke-width="2.4" stroke-linecap="butt"/>
<text x="159.9" y="835" font-size="19.3" text-anchor="middle" fill="#000">2</text>
<line x1="185.2" y1="812" x2="185.2" y2="816.8" stroke="#000" stroke-width="2.4" stroke-linecap="butt"/>
<text x="185.2" y="835" font-size="19.3" text-anchor="middle" fill="#000">3</text>
<line x1="210.5" y1="812" x2="210.5" y2="816.8" stroke="#000" stroke-width="2.4" stroke-linecap="butt"/>
<text x="210.5" y="835" font-size="19.3" text-anchor="middle" fill="#000">4</text>
<line x1="235.7" y1="812" x2="235.7" y2="816.8" stroke="#000" stroke-width="2.4" stroke-linecap="butt"/>
<text x="235.7" y="835" font-size="19.3" text-anchor="middle" fill="#000">5</text>
<line x1="260.9" y1="812" x2="260.9" y2="816.8" stroke="#000" stroke-width="2.4" stroke-linecap="butt"/>
<text x="260.9" y="835" font-size="19.3" text-anchor="middle" fill="#000">6</text>
<line x1="286" y1="812" x2="286" y2="816.8" stroke="#000" stroke-width="2.4" stroke-linecap="butt"/>
<text x="286" y="835" font-size="19.3" text-anchor="middle" fill="#000">7</text>
<line x1="311.2" y1="812" x2="311.2" y2="816.8" stroke="#000" stroke-width="2.4" stroke-linecap="butt"/>
<text x="311.2" y="835" font-size="19.3" text-anchor="middle" fill="#000">8</text>
<text x="201.7" y="863.3" font-size="19.6" text-anchor="middle" fill="#000">Time [h]</text>
<text x="22.6" y="713.1" font-size="19.2" text-anchor="middle" fill="#000" transform="rotate(-90 22.6 713.1)">Fold migration in</text>
<text x="43" y="710.8" font-size="19.3" text-anchor="middle" fill="#000" transform="rotate(-90 43 710.8)">the presence of Δ20</text>
<rect x="101.1" y="615.6" width="141" height="69.9" fill="#fff" stroke="#000" stroke-width="2.2"/>
<circle cx="110.6" cy="626.1" r="4.0" fill="#fff" stroke="#9a96bf" stroke-width="2.6"/>
<circle cx="110.6" cy="641.7" r="4.0" fill="#fff" stroke="#3c3739" stroke-width="2.6"/>
<circle cx="110.6" cy="656.9" r="5.3" fill="#9a96bf"/>
<circle cx="110.6" cy="673.5" r="5.3" fill="#3c3739"/>
<text x="119.6" y="632.1" font-size="14.2" text-anchor="start" fill="#000">PBS</text>
<text x="119.6" y="647.7" font-size="14.2" text-anchor="start" fill="#000">SPARC</text>
<text x="119.6" y="662.9" font-size="14.2" text-anchor="start" fill="#000">PBS + MK-2206</text>
<text x="119.6" y="679.5" font-size="14.2" text-anchor="start" fill="#000">SPARC + MK-2206</text>
<text x="406" y="582.5" font-size="22" text-anchor="start" fill="#000" font-weight="bold">f</text>
<polyline points="566,736.5 566,658.6 677.3,658.6 677.3,665.5" fill="none" stroke="#000" stroke-width="2.6"/>
<text x="624.7" y="663" font-size="29" text-anchor="middle" fill="#000" font-weight="bold">*</text>
<line x1="566.4" y1="742" x2="566.4" y2="773.4" stroke="#3c3739" stroke-width="1.6" stroke-linecap="butt"/>
<line x1="603.1" y1="702.5" x2="603.1" y2="764.4" stroke="#3c3739" stroke-width="1.6" stroke-linecap="butt"/>
<line x1="640.1" y1="682.3" x2="640.1" y2="772" stroke="#3c3739" stroke-width="1.6" stroke-linecap="butt"/>
<line x1="677.1" y1="671" x2="677.1" y2="697" stroke="#3c3739" stroke-width="1.6" stroke-linecap="butt"/>
<line x1="677.1" y1="718.7" x2="677.1" y2="749.6" stroke="#3c3739" stroke-width="1.6" stroke-linecap="butt"/>
<circle cx="532.8" cy="621.2" r="6.8" fill="#3c3739"/>
<circle cx="536.4" cy="621.2" r="6.8" fill="#9a96bf"/>
<circle cx="566.4" cy="758.5" r="6.8" fill="#9a96bf"/>
<circle cx="603.1" cy="748.2" r="6.8" fill="#9a96bf"/>
<circle cx="640.1" cy="750.1" r="6.8" fill="#9a96bf"/>
<circle cx="677.1" cy="734.1" r="6.8" fill="#9a96bf"/>
<circle cx="566.4" cy="754.3" r="6.8" fill="#3c3739"/>
<circle cx="603.1" cy="733.6" r="6.8" fill="#3c3739"/>
<circle cx="640.1" cy="708" r="6.8" fill="#3c3739"/>
<circle cx="677.1" cy="684.3" r="6.8" fill="#3c3739"/>
<text x="687.2" y="741.3" font-size="17.5" text-anchor="start" fill="#000">ns.</text>
<rect x="515.8" y="583.4" width="202.2" height="20" fill="#000"/>
<text x="618.7" y="599.5" font-size="17.6" text-anchor="middle" fill="#fff">LNT229</text>
<line x1="517.5" y1="603" x2="517.5" y2="914" stroke="#000" stroke-width="2.6" stroke-linecap="butt"/>
<line x1="716.9" y1="603" x2="716.9" y2="914" stroke="#000" stroke-width="2.4" stroke-linecap="butt"/>
<line x1="510" y1="804.5" x2="718" y2="804.5" stroke="#000" stroke-width="2.6" stroke-linecap="butt"/>
<line x1="511.5" y1="804.5" x2="517.5" y2="804.5" stroke="#000" stroke-width="2.4" stroke-linecap="butt"/>
<text x="500.9" y="812.5" font-size="19.7" text-anchor="end" fill="#000">0</text>
<line x1="511.5" y1="767.3" x2="517.5" y2="767.3" stroke="#000" stroke-width="2.4" stroke-linecap="butt"/>
<text x="500.9" y="775.3" font-size="19.7" text-anchor="end" fill="#000">0.2</text>
<line x1="511.5" y1="730.5" x2="517.5" y2="730.5" stroke="#000" stroke-width="2.4" stroke-linecap="butt"/>
<text x="500.9" y="738.5" font-size="19.7" text-anchor="end" fill="#000">0.4</text>
<line x1="511.5" y1="693.9" x2="517.5" y2="693.9" stroke="#000" stroke-width="2.4" stroke-linecap="butt"/>
<text x="500.9" y="701.9" font-size="19.7" text-anchor="end" fill="#000">0.6</text>
<line x1="511.5" y1="657.1" x2="517.5" y2="657.1" stroke="#000" stroke-width="2.4" stroke-linecap="butt"/>
<text x="500.9" y="665.1" font-size="19.7" text-anchor="end" fill="#000">0.8</text>
<line x1="511.5" y1="619.1" x2="517.5" y2="619.1" stroke="#000" stroke-width="2.4" stroke-linecap="butt"/>
<text x="500.9" y="627.1" font-size="19.7" text-anchor="end" fill="#000">1.0</text>
<line x1="529.3" y1="804.5" x2="529.3" y2="809.4" stroke="#000" stroke-width="2.4" stroke-linecap="butt"/>
<line x1="566.2" y1="804.5" x2="566.2" y2="809.4" stroke="#000" stroke-width="2.4" stroke-linecap="butt"/>
<line x1="603.1" y1="804.5" x2="603.1" y2="809.4" stroke="#000" stroke-width="2.4" stroke-linecap="butt"/>
<line x1="640.3" y1="804.5" x2="640.3" y2="809.4" stroke="#000" stroke-width="2.4" stroke-linecap="butt"/>
<line x1="677.6" y1="804.5" x2="677.6" y2="809.4" stroke="#000" stroke-width="2.4" stroke-linecap="butt"/>
<text x="440.9" y="703.5" font-size="20" text-anchor="middle" fill="#000" transform="rotate(-90 440.9 703.5)">Fold migration</text>
<rect x="517.5" y="841.3" width="199.4" height="35.7" fill="#9a96bf"/>
<rect x="517.5" y="877" width="199.4" height="36" fill="#3c3739"/>
<line x1="517.5" y1="841.3" x2="716.9" y2="841.3" stroke="#000" stroke-width="2.6" stroke-linecap="butt"/>
<line x1="517.5" y1="877" x2="716.9" y2="877" stroke="#000" stroke-width="2.6" stroke-linecap="butt"/>
<line x1="516.2" y1="913.2" x2="718.2" y2="913.2" stroke="#000" stroke-width="2.6" stroke-linecap="butt"/>
<text x="530.6" y="834.8" font-size="19.5" text-anchor="middle" fill="#000">0</text>
<text x="567.5" y="834.8" font-size="19.5" text-anchor="middle" fill="#000">10</text>
<text x="604.4" y="834.8" font-size="19.5" text-anchor="middle" fill="#000">10</text>
<text x="641.1" y="834.8" font-size="19.5" text-anchor="middle" fill="#000">10</text>
<text x="677.6" y="834.8" font-size="19.5" text-anchor="middle" fill="#000">10</text>
<text x="530.6" y="866.9" font-size="19.5" text-anchor="middle" fill="#fff">0</text>
<text x="571.2" y="866.9" font-size="19.5" text-anchor="middle" fill="#fff">0</text>
<text x="604.4" y="866.9" font-size="19.5" text-anchor="middle" fill="#fff">10</text>
<text x="641.1" y="866.9" font-size="19.5" text-anchor="middle" fill="#fff">20</text>
<text x="677.6" y="866.9" font-size="19.5" text-anchor="middle" fill="#fff">40</text>
<text x="530.6" y="902.2" font-size="19.5" text-anchor="middle" fill="#fff">0</text>
<text x="571.2" y="902.2" font-size="19.5" text-anchor="middle" fill="#fff">0</text>
<text x="604.4" y="902.2" font-size="19.5" text-anchor="middle" fill="#fff">10</text>
<text x="641.1" y="902.2" font-size="19.5" text-anchor="middle" fill="#fff">20</text>
<text x="677.6" y="902.2" font-size="19.5" text-anchor="middle" fill="#fff">40</text>
<text x="507.1" y="834.3" font-size="20.4" text-anchor="end" fill="#000">Myelin</text>
<text x="507.1" y="866.3" font-size="20.4" text-anchor="end" fill="#000">del_Kazal</text>
<text x="507.1" y="901.7" font-size="20.4" text-anchor="end" fill="#000">SPARC</text>
<text x="615.2" y="936.6" font-size="20.1" text-anchor="middle">[µg/cm<tspan font-size="12.5" dy="-7.5">2</tspan><tspan dy="7.5">]</tspan></text>
</svg>
</body></html>
